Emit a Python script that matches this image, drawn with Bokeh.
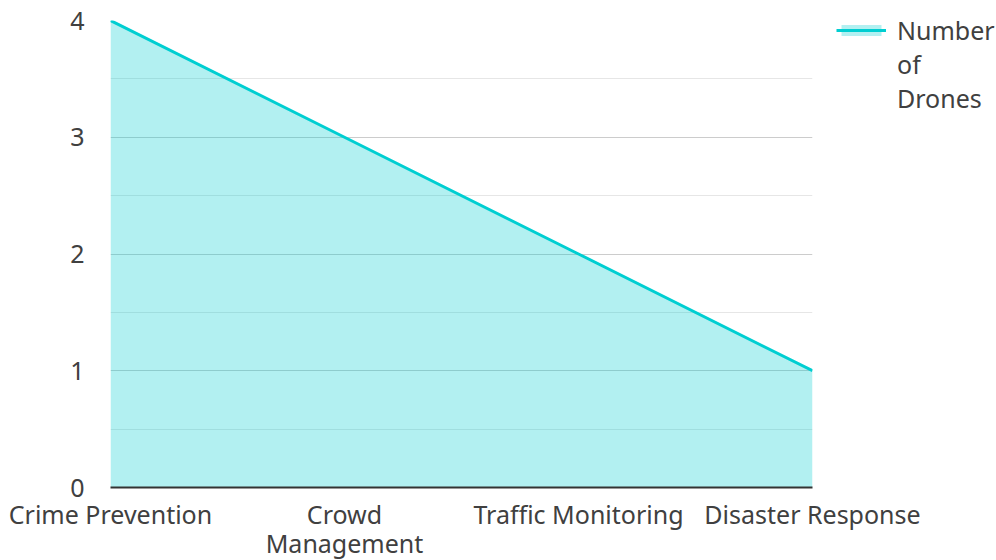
from bokeh.plotting import figure
from bokeh.models import Range1d, FixedTicker, Legend, LegendItem, ColumnDataSource
from bokeh.embed import file_html
from bokeh.resources import INLINE

categories = ["Crime Prevention", "Crowd\nManagement", "Traffic Monitoring", "Disaster Response"]
drones = [4, 3, 2, 1]
y_ticks = [0, 1, 2, 3, 4]
y_minor = [0.5, 1.5, 2.5, 3.5]
legend_lines = ["Number", "of", "Drones"]

xs = list(range(len(categories)))
src = ColumnDataSource(dict(x=xs, y=drones, base=[0] * len(xs)))

FONT = "Noto Sans"
FS = "25px"
TXT = "#404040"

p = figure(frame_width=702, frame_height=467, output_backend="svg", toolbar_location=None,
           x_range=Range1d(0, 3), y_range=Range1d(0, 4),
           min_border_left=110, min_border_top=20, min_border_bottom=72, min_border_right=170)
p.outline_line_color = None

area = p.varea(x="x", y1="base", y2="y", source=src, fill_color="#00CED1", fill_alpha=0.3)
line = p.line(x="x", y="y", source=src, line_color="#00CED1", line_width=3)
blank = p.line(x=[], y=[], line_alpha=0)

p.xgrid.grid_line_color = None
p.yaxis.ticker = FixedTicker(ticks=y_ticks, minor_ticks=y_minor)
p.ygrid.grid_line_color = "#cccccc"
p.ygrid.minor_grid_line_color = "#e6e6e6"
p.ygrid.level = "underlay"

p.yaxis.axis_line_color = None
p.yaxis.major_tick_line_color = None
p.yaxis.minor_tick_line_color = None
p.yaxis.major_label_standoff = 20
p.yaxis.major_label_text_font = FONT
p.yaxis.major_label_text_font_size = FS
p.yaxis.major_label_text_color = TXT

p.xaxis.ticker = FixedTicker(ticks=xs)
p.xaxis.major_label_overrides = {i: c for i, c in zip(xs, categories)}
p.xaxis.axis_line_color = "#333333"
p.xaxis.axis_line_width = 2
p.xaxis.major_tick_line_color = None
p.xaxis.minor_tick_line_color = None
p.xaxis.major_label_standoff = 3
p.xaxis.major_label_text_font = FONT
p.xaxis.major_label_text_font_size = FS
p.xaxis.major_label_text_color = TXT
p.xaxis.major_label_text_line_height = 0.87

items = [LegendItem(label=legend_lines[0], renderers=[area, line])]
items += [LegendItem(label=t, renderers=[blank]) for t in legend_lines[1:]]
legend = Legend(items=items, location=(24, 372), margin=0, padding=0, border_line_alpha=0,
                background_fill_alpha=0, glyph_width=50, glyph_height=14, spacing=0,
                label_standoff=11, label_text_font=FONT, label_text_font_size=FS,
                label_text_color=TXT, label_text_line_height=0.92)
p.add_layout(legend, "right")

open("out.html", "w").write(file_html(p, INLINE))
